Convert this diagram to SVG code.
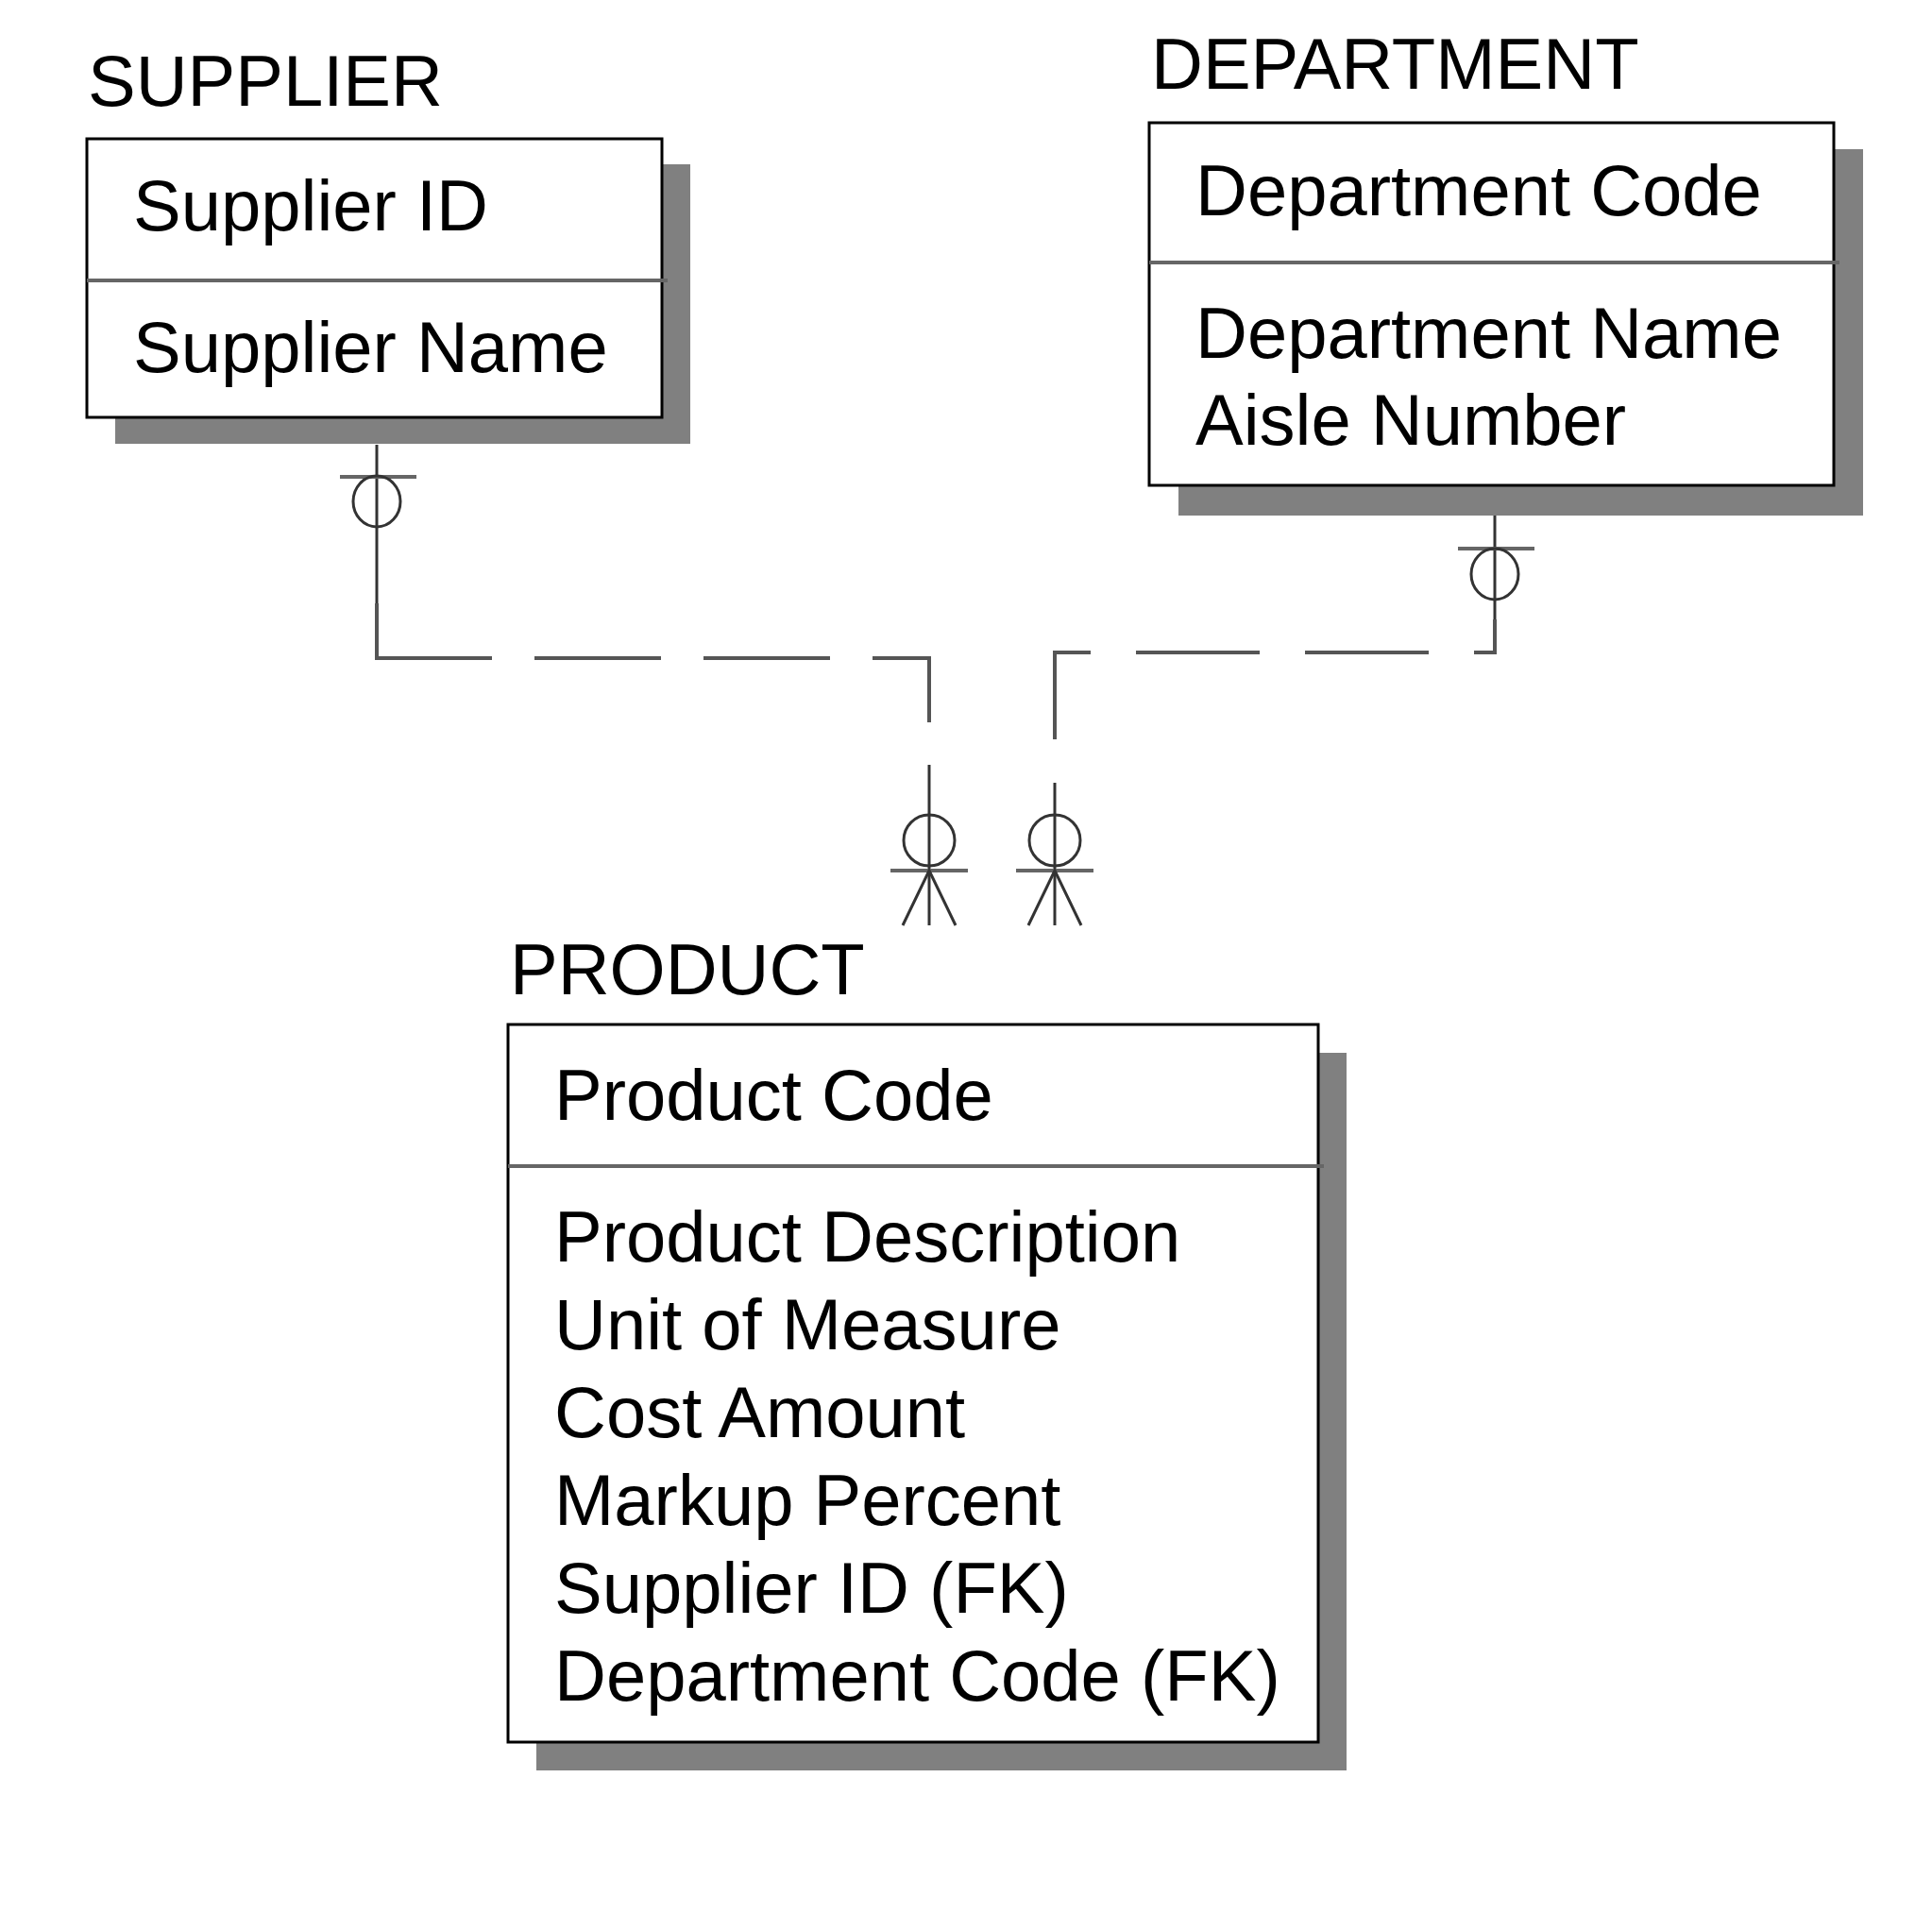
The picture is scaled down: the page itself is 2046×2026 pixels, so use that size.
<svg xmlns="http://www.w3.org/2000/svg" width="2046" height="2026" viewBox="0 0 2046 2026">
<style>
.t{font-family:"Liberation Sans",Arial,sans-serif;font-size:76px;fill:#000}
.a{font-family:"Liberation Sans",Arial,sans-serif;font-size:76px;fill:#000}
.sh{fill:#808080}
.bx{fill:#fff;stroke:#000;stroke-width:3}
.dv{stroke:#666;stroke-width:4}
.ln{fill:none;stroke:#333;stroke-width:3}
.cb{stroke:#666;stroke-width:4}
.dl{fill:none;stroke:#555;stroke-width:4}
</style>
<rect width="2046" height="2026" fill="#fff"/>
<g id="supplier">
<text class="t" x="93" y="112">SUPPLIER</text>
<rect class="sh" x="122" y="174" width="609" height="296"/>
<rect class="bx" x="92" y="147" width="609" height="295"/>
<line class="dv" x1="92" y1="297" x2="707" y2="297"/>
<text class="a" x="141" y="244">Supplier ID</text>
<text class="a" x="141" y="394">Supplier Name</text>
</g>
<g id="department">
<text class="t" x="1219" y="94">DEPARTMENT</text>
<rect class="sh" x="1248" y="158" width="725" height="388"/>
<rect class="bx" x="1217" y="130" width="725" height="384"/>
<line class="dv" x1="1217" y1="278" x2="1948" y2="278"/>
<text class="a" x="1266" y="228">Department Code</text>
<text class="a" x="1266" y="379">Department Name</text>
<text class="a" x="1266" y="471">Aisle Number</text>
</g>
<g id="product">
<text class="t" x="540" y="1053">PRODUCT</text>
<rect class="sh" x="568" y="1115" width="858" height="760"/>
<rect class="bx" x="538" y="1085" width="858" height="760"/>
<line class="dv" x1="538" y1="1235" x2="1402" y2="1235"/>
<text class="a" x="587" y="1186">Product Code</text>
<text class="a" x="587" y="1336">Product Description</text>
<text class="a" x="587" y="1429">Unit of Measure</text>
<text class="a" x="587" y="1522">Cost Amount</text>
<text class="a" x="587" y="1615">Markup Percent</text>
<text class="a" x="587" y="1708">Supplier ID (FK)</text>
<text class="a" x="587" y="1801">Department Code (FK)</text>
</g>
<g id="connectors">
<line class="ln" x1="399" y1="471" x2="399" y2="639"/>
<line class="cb" x1="360" y1="505" x2="441" y2="505"/>
<ellipse class="ln" cx="399" cy="531" rx="25" ry="27"/>
<path class="dl" d="M399 639 V697 H984 V765" stroke-dasharray="180 45 134 45 134 45 200"/>
<line class="ln" x1="984" y1="810" x2="984" y2="980"/>
<ellipse class="ln" cx="984" cy="890" rx="27" ry="27"/>
<line class="cb" x1="943" y1="922" x2="1025" y2="922"/>
<path class="ln" d="M956 980 L984 922 L1012 980"/>

<line class="ln" x1="1583" y1="546" x2="1583" y2="656"/>
<line class="cb" x1="1544" y1="581" x2="1625" y2="581"/>
<ellipse class="ln" cx="1583" cy="608" rx="25" ry="27"/>
<path class="dl" d="M1583 656 V691 H1117 V783" stroke-dasharray="57 48 131 48 131 48 200"/>
<line class="ln" x1="1117" y1="829" x2="1117" y2="980"/>
<ellipse class="ln" cx="1117" cy="890" rx="27" ry="27"/>
<line class="cb" x1="1076" y1="922" x2="1158" y2="922"/>
<path class="ln" d="M1089 980 L1117 922 L1145 980"/>
</g>
</svg>
